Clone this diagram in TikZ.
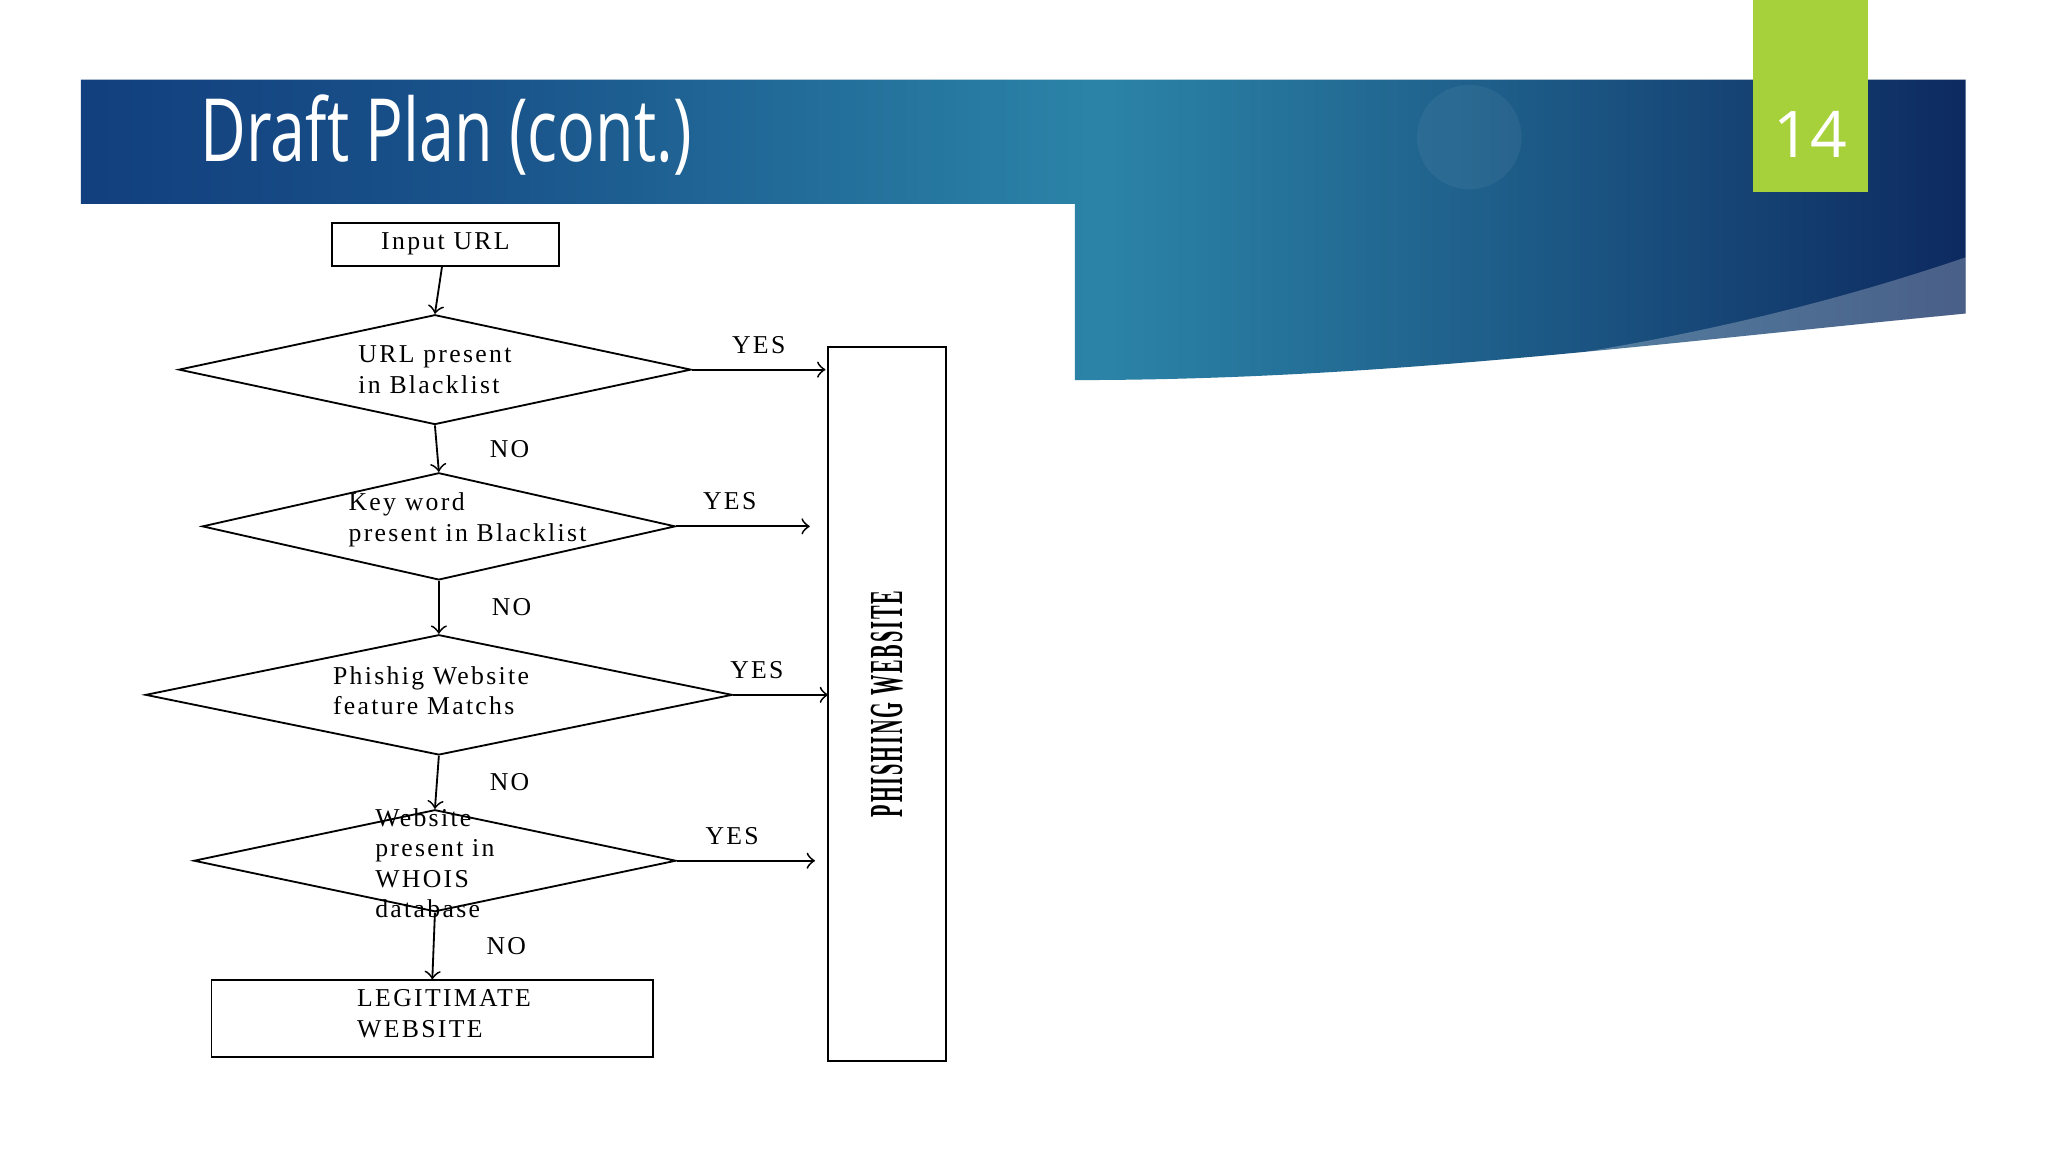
\documentclass[tikz,border=0pt]{standalone}
\usepackage{fontspec}
\setmainfont{Liberation Serif}
\newfontfamily\slidefont{Open Sans}
\usetikzlibrary{shapes.geometric,positioning,arrows}
\definecolor{bannerleft}{HTML}{123F7E}
\definecolor{bannermid}{HTML}{2B84A8}
\definecolor{bannerright}{HTML}{0D2A60}
\definecolor{tabgreen}{HTML}{A7D13A}
\pgfdeclarehorizontalshading{banner}{100bp}{color(0bp)=(bannerleft); color(25bp)=(bannerleft); color(36bp)=(bannerleft!70!bannermid); color(52bp)=(bannermid); color(62bp)=(bannermid!60!bannerright); color(75bp)=(bannerright); color(100bp)=(bannerright)}
\newcommand{\flowfont}{\fontsize{5.6}{6.6}\selectfont\addfontfeature{LetterSpace=9}}
\tikzset{
  box/.style={draw, thin, font=\flowfont, inner sep=0pt},
  decision/.style={draw, thin, diamond, inner sep=0pt},
  dtext/.style={align=left, font=\flowfont, inner sep=0pt},
  flow/.style={->, >=to, thin},
  lbl/.style={font=\flowfont}
}
\begin{document}
\begin{tikzpicture}[x=0.01cm,y=-0.01cm]
\useasboundingbox[fill=white] (0,0) rectangle (1568,882);
% banner
\shade[shading=banner] (62,61) -- (1505,61) -- (1505,240)
  .. controls (1250,265) and (1050,291) .. (823,291) -- (823,156) -- (62,156) -- cycle;
\fill[white,opacity=0.25] (1505,197) .. controls (1350,250) and (1200,275) .. (1080,287)
  .. controls (1250,270) and (1400,250) .. (1505,240) -- cycle;
\fill[white,opacity=0.05] (1125,105) circle (40);
\node[anchor=west, text=white, inner sep=0pt] (title) at (153,103)
  {\scalebox{0.72}[1]{\slidefont\fontsize{19}{22}\selectfont Draft Plan (cont.)}};
% slide number
\fill[tabgreen] (1342,0) rectangle (1430,147);
\node[text=white, inner sep=0pt] (num) at (1386,103) {\slidefont\fontsize{14}{16}\selectfont 14};

% flowchart
\node[box, minimum width=1.74cm, minimum height=0.33cm] (input) at (341,187) {Input URL};
\node[decision, minimum width=3.92cm, minimum height=0.84cm] (blist) at (333,283) {};
\node[dtext] at (blist) {URL present\\in Blacklist};
\node[decision, minimum width=3.62cm, minimum height=0.82cm] (kword) at (336,403) {};
\node[dtext] at (358,398) {Key word\\present in Blacklist};
\node[decision, minimum width=4.49cm, minimum height=0.92cm] (feat) at (336,532) {};
\node[dtext] at (330,529) {Phishig Website\\feature Matchs};
\node[decision, minimum width=3.69cm, minimum height=0.78cm] (whois) at (333,659) {};
\node[dtext] at (333,661) {Website\\present in\\WHOIS\\database};
\node[box, minimum width=3.38cm, minimum height=0.59cm] (legit) at (331,780) {};
\node[dtext] at (340,776) {LEGITIMATE\\WEBSITE};
\node[box, minimum width=0.9cm, minimum height=5.46cm] (phish) at (679,539)
  {\rotatebox{90}{\resizebox{1.73cm}{0.24cm}{\bfseries PHISHING WEBSITE}}};

\coordinate (y1) at (632,283);
\coordinate (y2) at (620,403);
\coordinate (y3) at (634,532);
\coordinate (y4) at (624,659);

\draw[flow] (input) -- (blist.north);
\draw[flow] (blist.south) -- node[lbl, right=8pt] {NO} (kword.north);
\draw[flow] (kword.south) -- node[lbl, right=8pt] {NO} (feat.north);
\draw[flow] (feat.south) -- node[lbl, right=8pt] {NO} (whois.north);
\draw[flow] (whois.south) -- node[lbl, right=8pt] {NO} (legit.north);
\draw[flow] (blist.east) -- node[lbl, above, pos=0.5] {YES} (y1);
\draw[flow] (kword.east) -- node[lbl, above, pos=0.4] {YES} (y2);
\draw[flow] (feat.east) -- node[lbl, above, pos=0.25] {YES} (y3);
\draw[flow] (whois.east) -- node[lbl, above, pos=0.4] {YES} (y4);
\end{tikzpicture}
\end{document}
